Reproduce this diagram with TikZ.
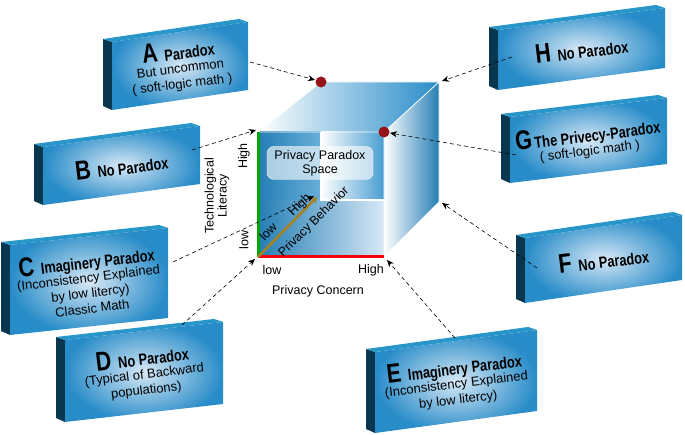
\documentclass[tikz,border=0pt]{standalone}
\usepackage{fontspec}
\setmainfont{Liberation Sans}
\newfontfamily\condb{Liberation Sans Bold}[FakeStretch=0.8]
\usetikzlibrary{arrows.meta}
\definecolor{sidec}{RGB}{10,55,80}
\definecolor{topc}{RGB}{40,150,200}
\definecolor{edgeb}{RGB}{40,140,200}
\definecolor{lightb}{RGB}{215,232,246}
\definecolor{dotc}{RGB}{150,20,25}
\definecolor{goldc}{RGB}{165,130,35}
\newcommand\slab[6]{%
 \fill[sidec] (#2,#3) -- (#2-9,#3-3) -- (#2-9,#3+#5-4) -- (#2,#3+#5) -- cycle;
 \fill[topc] (#2,#3) -- (#2-9,#3-3) -- (#2+#4-9,#3-#6-3) -- (#2+#4,#3-#6) -- cycle;
 \shade[inner color=lightb,outer color=edgeb] (#2,#3) -- (#2+#4,#3-#6) -- (#2+#4,#3-#6+#5) -- (#2,#3+#5) -- cycle;
 \coordinate (#1c) at (#2+#4/2,#3+#5/2-#6/2);}
\newcommand\bigLet[1]{{\condb\fontsize{27}{27}\selectfont #1}}
\newcommand\titl[1]{{\condb\fontsize{16}{18}\selectfont #1}}
\tikzset{btxt/.style={align=center,rotate=7,font=\fontsize{13}{15.5}\selectfont,inner sep=0pt},
 conn/.style={dashed,semithick,dash pattern=on 4pt off 3pt,-{Stealth[length=7pt,width=6pt]}},
 lab/.style={font=\fontsize{12.5}{13}\selectfont,inner sep=0pt}}
\begin{document}
\begin{tikzpicture}[x=1pt,y=-1pt]
\useasboundingbox (0,0) rectangle (685,435);
% boxes
\slab{a}{112}{42}{136}{68}{20}
\slab{b}{43}{147}{157}{58}{21}
\slab{c}{10}{245}{158}{90}{17}
\slab{d}{65}{340}{158}{82}{18}
\slab{e}{375}{352}{162}{81}{22}
\slab{f}{525}{238}{157}{65}{23}
\slab{g}{510}{117}{157}{66}{19}
\slab{h}{498}{30}{167}{60}{22}
\node[btxt] (A) at (ac) {\bigLet{A}\enspace\titl{Paradox}\\[-2pt]But uncommon\\( soft-logic math )};
\node[btxt] (B) at (bc) {\bigLet{B}\enspace\titl{No Paradox}};
\node[btxt] (C) at (cc) {\bigLet{C}\enspace\titl{Imaginery Paradox}\\[-2pt](Inconsistency Explained\\by low litercy)\\Classic Math};
\node[btxt] (D) at (dc) {\bigLet{D}\enspace\titl{No Paradox}\\[-2pt](Typical of Backward\\populations)};
\node[btxt] (E) at (ec) {\bigLet{E}\enspace\titl{Imaginery Paradox}\\[-2pt](Inconsistency Explained\\by low litercy)};
\node[btxt] (F) at (fc) {\bigLet{F}\enspace\titl{No Paradox}};
\node[btxt] (G) at (gc) {\bigLet{G}\,\titl{The Privecy-Paradox}\\[-2pt]( soft-logic math )};
\node[btxt] (H) at (hc) {\bigLet{H}\enspace\titl{No Paradox}};
% cube
\coordinate (ftl) at (258,132); \coordinate (ftr) at (384,132);
\coordinate (fbr) at (384,257); \coordinate (fbl) at (258,257);
\coordinate (btl) at (321,82); \coordinate (btr) at (439,82);
\coordinate (bbr) at (439,202); \coordinate (bmid) at (321,200);
\shade[left color=white,right color=edgeb] (ftl) -- (btl) -- (btr) -- (ftr) -- cycle;
\shade[left color=white,right color=edgeb!90!black] (ftr) -- (btr) -- (bbr) -- (fbr) -- cycle;
\shade[left color=edgeb!90!black,right color=lightb] (ftl) rectangle (fbr);
\shade[left color=edgeb!90!black,right color=edgeb!70!white] (258,132) rectangle (321,200);
\shade[left color=white,right color=edgeb!85!white] (321,132) rectangle (384,200);
\draw[white,line width=1.2pt] (321,132) -- (bmid) -- (384,200);
\draw[white,line width=0.8pt] (ftl) -- (btl) -- (btr) -- (ftr) -- cycle (ftr) -- (fbr) (btr) -- (bbr) -- (fbr);
\node[draw=white,fill=white,fill opacity=0.6,text opacity=1,rounded corners=7pt,minimum width=106pt,minimum height=33pt,align=center,font=\fontsize{12.5}{14}\selectfont,inner sep=1pt] (space) at (320,163) {Privacy Paradox\\Space};
\draw[green!65!black,line width=3pt] (fbl) -- (ftl);
\draw[red!85!purple,line width=3pt] (fbl) -- (fbr);
\coordinate (dtip) at (317,197);
\draw[goldc,line width=2.6pt,-{Stealth[length=6pt,width=7pt]}] (fbl) -- (dtip);
\fill[dotc] (btl) circle (5.5);
\fill[dotc] (ftr) circle (5.5);
% cube labels
\node[lab,rotate=90] (hi1) at (244,156) {High};
\node[lab,rotate=90] (lo1) at (244,240) {low};
\node[lab,rotate=90,align=center] (tl) at (217,196) {Technological\\Literacy};
\node[lab] (lo2) at (272,270) {low};
\node[lab] (hi2) at (371,270) {High};
\node[lab] (pc) at (318,291) {Privacy Concern};
\node[lab,rotate=45] (lo3) at (268,232) {low};
\node[lab,rotate=45] (hi3) at (300,205) {High};
\node[lab,rotate=45] (pb) at (314,222) {Privacy Behavior};
% connectors
\coordinate (sa) at (250,62); \coordinate (ea) at (315,80);
\coordinate (sh) at (512,57); \coordinate (eh) at (442,81);
\coordinate (sb) at (192,150); \coordinate (eb) at (256,130);
\coordinate (sg) at (516,155); \coordinate (eg) at (390,133);
\coordinate (sc) at (173,262); \coordinate (ec) at (314,196);
\coordinate (sd) at (182,325); \coordinate (ed) at (255,259);
\coordinate (se) at (455,338); \coordinate (ee) at (387,260);
\coordinate (sf) at (537,268); \coordinate (ef) at (442,203);
\foreach \s/\e in {sa/ea,sh/eh,sb/eb,sg/eg,sc/ec,sd/ed,se/ee,sf/ef}
  \draw[conn] (\s) -- (\e);
\end{tikzpicture}
\end{document}
